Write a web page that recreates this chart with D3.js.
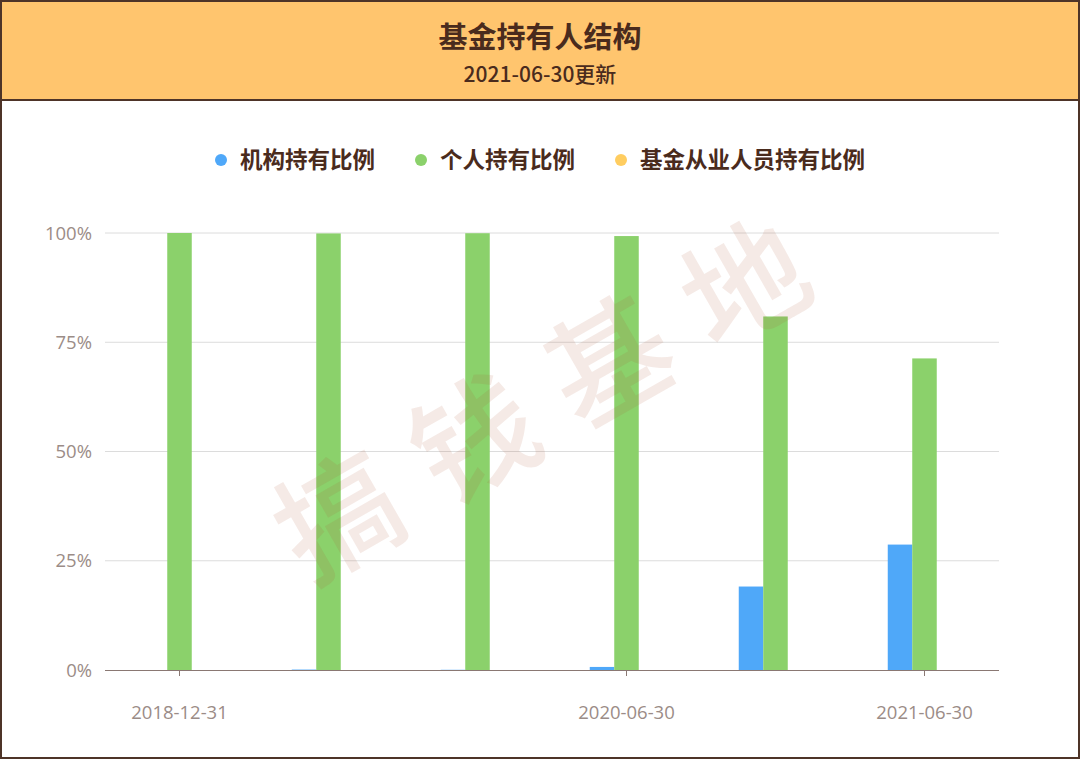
<!DOCTYPE html>
<html>
<head>
<meta charset="utf-8">
<script src="https://cdn.jsdelivr.net/npm/d3@7"></script>
<style>
    body { margin: 0; background: #fff; }
    svg { display: block; font-family: 'Noto Sans CJK SC', 'Noto Sans', sans-serif; }
</style>
</head>
<body>
<svg></svg>
<script>
let width = 1080
let height = 759

let dates = ['2018-12-31', '2019-06-30', '2019-12-31', '2020-06-30', '2020-12-31', '2021-06-30']
let shownDates = ['2018-12-31', '2020-06-30', '2021-06-30']
let seriesNames = ['机构持有比例', '个人持有比例', '基金从业人员持有比例']
let seriesColors = ['#4fa8f9', '#8bd16b', '#ffcd60']
let institution = [0, 0.1, 0.05, 0.7, 19.1, 28.7]
let individual = [100, 99.9, 99.95, 99.3, 80.9, 71.3]
let employee = [0, 0, 0, 0, 0, 0]
let yTicks = [0, 25, 50, 75, 100]

let textDark = '#4a2b1d'
let axisGray = '#9b8c87'

let svg = d3.select('svg')
    .attr('width', width)
    .attr('height', height)

// header
svg.append('rect')
    .attr('x', 0).attr('y', 0)
    .attr('width', width).attr('height', 100)
    .attr('fill', '#ffc56e')
svg.append('line')
    .attr('x1', 0).attr('x2', width)
    .attr('y1', 100).attr('y2', 100)
    .attr('stroke', '#4e3428').attr('stroke-width', 2)
svg.append('text')
    .attr('x', width / 2).attr('y', 48)
    .attr('text-anchor', 'middle')
    .attr('font-size', 29).attr('font-weight', 'bold')
    .attr('fill', textDark)
    .text('基金持有人结构')
svg.append('text')
    .attr('x', width / 2).attr('y', 82)
    .attr('text-anchor', 'middle')
    .attr('font-size', 21).attr('font-weight', 500)
    .attr('fill', textDark)
    .text('2021-06-30更新')

// legend
let legend = svg.append('g').selectAll('g')
    .data(seriesNames).enter()
    .append('g')
    .attr('transform', (d, i) => `translate(${221 + i * 200}, 160)`)
legend.append('circle')
    .attr('r', 6)
    .attr('fill', (d, i) => seriesColors[i])
legend.append('text')
    .attr('x', 19).attr('y', 8)
    .attr('font-size', 22.5).attr('font-weight', 'bold')
    .attr('fill', textDark)
    .text(d => d)

// scales
let x = d3.scaleBand()
    .domain(dates)
    .range([105, 999])
let barWidth = 24.5
let x1 = d3.scaleBand()
    .domain(seriesNames)
    .range([0, barWidth * 3])
let y = d3.scaleLinear()
    .domain([0, 100])
    .range([670, 233])

// grid + y labels
svg.append('g').selectAll('line')
    .data(yTicks.filter(d => d > 0)).enter()
    .append('line')
    .attr('x1', 105).attr('x2', 999)
    .attr('y1', d => y(d)).attr('y2', d => y(d))
    .attr('stroke', '#dcdcdc').attr('stroke-width', 1)
svg.append('g').selectAll('text')
    .data(yTicks).enter()
    .append('text')
    .attr('x', 92).attr('y', d => y(d) + 6.5)
    .attr('text-anchor', 'end')
    .attr('font-size', 18.5)
    .attr('fill', axisGray)
    .attr('font-family', 'Open Sans, sans-serif')
    .text(d => d + '%')

// bars
let rows = dates.map((d, i) => ({
    date: d,
    values: [institution[i], individual[i], employee[i]]
}))
let barGroup = svg.append('g').selectAll('g')
    .data(rows).enter()
    .append('g')
    .attr('transform', d => `translate(${x(d.date) + x.bandwidth() / 2 - barWidth * 1.5}, 0)`)
barGroup.selectAll('rect')
    .data(d => d.values.map((v, i) => ({ name: seriesNames[i], value: v, color: seriesColors[i] })))
    .enter()
    .append('rect')
    .attr('x', d => x1(d.name))
    .attr('width', x1.bandwidth())
    .attr('y', d => y(d.value))
    .attr('height', d => y(0) - y(d.value))
    .attr('fill', d => d.color)

// x axis
svg.append('line')
    .attr('x1', 105).attr('x2', 999)
    .attr('y1', 670.5).attr('y2', 670.5)
    .attr('stroke', '#8a7873').attr('stroke-width', 1.2)
let xTicks = svg.append('g').selectAll('g')
    .data(shownDates).enter()
    .append('g')
    .attr('transform', d => `translate(${x(d) + x.bandwidth() / 2}, 670)`)
xTicks.append('line')
    .attr('y1', 0).attr('y2', 6)
    .attr('stroke', '#8a7873')
xTicks.append('text')
    .attr('y', 48.5)
    .attr('text-anchor', 'middle')
    .attr('font-size', 18.5)
    .attr('fill', axisGray)
    .attr('font-family', 'Open Sans, sans-serif')
    .text(d => d)

// watermark
svg.append('text')
    .attr('transform', 'translate(558, 394) rotate(-29.8)')
    .attr('text-anchor', 'middle')
    .attr('dy', '0.35em')
    .attr('font-size', 122)
    .attr('font-weight', 500)
    .attr('letter-spacing', 34)
    .attr('fill', '#b05030')
    .attr('fill-opacity', 0.12)
    .text('搞钱基地')

// outer frame
svg.append('rect')
    .attr('x', 1).attr('y', 1)
    .attr('width', width - 2).attr('height', height - 2)
    .attr('fill', 'none')
    .attr('stroke', '#4e3428').attr('stroke-width', 2)
</script>
</body>
</html>
